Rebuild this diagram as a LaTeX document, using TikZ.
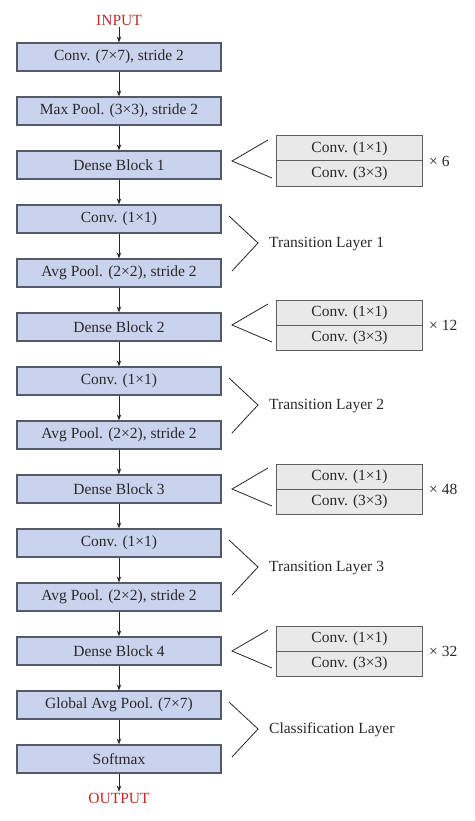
\documentclass[tikz,border=0pt]{standalone}
\usepackage{fontspec}
\setmainfont{Liberation Serif}
\usetikzlibrary{arrows.meta}
\definecolor{bfill}{RGB}{201,211,238}
\definecolor{bdraw}{RGB}{85,90,105}
\definecolor{gfill}{RGB}{233,233,233}
\definecolor{gdraw}{RGB}{95,95,95}
\definecolor{ired}{RGB}{190,45,40}
\definecolor{tcol}{RGB}{40,40,40}
\tikzset{
  bbox/.style={draw=bdraw, fill=bfill, line width=1.2pt, minimum width=204pt, minimum height=28pt, inner sep=0pt, font=\fontsize{15.5}{17}\selectfont, text=tcol},
  gbox/.style={draw=gdraw, fill=gfill, line width=1pt, minimum width=146pt, minimum height=25pt, inner sep=0pt, font=\fontsize{15.5}{17}\selectfont, text=tcol},
  lab/.style={anchor=west, inner sep=0pt, font=\fontsize{15.5}{17}\selectfont, text=tcol},
  io/.style={inner sep=1pt, font=\fontsize{15.5}{17}\selectfont, text=ired},
  arr/.style={-{Stealth[length=6pt,width=4.5pt]}, line width=0.8pt, draw=black!85},
  chev/.style={line width=0.8pt, draw=black!85},
}
\begin{document}
\begin{tikzpicture}[x=1pt,y=-1pt]
\useasboundingbox (0,0) rectangle (474,821);
\node[io] (in) at (119,21) {INPUT};
\node[bbox] (b1) at (119,57) {Conv. (7×7), stride 2};
\node[bbox] (b2) at (119,111) {Max Pool. (3×3), stride 2};
\node[bbox] (b3) at (119,165) {Dense Block 1};
\node[bbox] (b4) at (119,219) {Conv. (1×1)};
\node[bbox] (b5) at (119,273) {Avg Pool. (2×2), stride 2};
\node[bbox] (b6) at (119,327) {Dense Block 2};
\node[bbox] (b7) at (119,381) {Conv. (1×1)};
\node[bbox] (b8) at (119,435) {Avg Pool. (2×2), stride 2};
\node[bbox] (b9) at (119,489) {Dense Block 3};
\node[bbox] (b10) at (119,543) {Conv. (1×1)};
\node[bbox] (b11) at (119,597) {Avg Pool. (2×2), stride 2};
\node[bbox] (b12) at (119,651) {Dense Block 4};
\node[bbox] (b13) at (119,705) {Global Avg Pool. (7×7)};
\node[bbox] (b14) at (119,759) {Softmax};
\node[io] (out) at (119,798) {OUTPUT};
\draw[arr] (in) -- (b1);
\foreach \a/\b in {b1/b2,b2/b3,b3/b4,b4/b5,b5/b6,b6/b7,b7/b8,b8/b9,b9/b10,b10/b11,b11/b12,b12/b13,b13/b14}
  \draw[arr] (\a) -- (\b);
\draw[arr] (b14) -- (out);
% dense block details
\foreach \i/\c/\n in {1/161/6,2/325/12,3/489/48,4/651/32}{
  \node[gbox] (g\i a) at (349.5,\c-12.5) {Conv. (1×1)};
  \node[gbox] (g\i b) at (349.5,\c+12.5) {Conv. (3×3)};
  \node[lab] (x\i) at (429,\c) {× \n};
  \coordinate (t\i) at (232,\c);
  \coordinate (u\i) at (268,\c-21);
  \coordinate (v\i) at (272,\c+17);
  \draw[chev] (u\i) -- (t\i) -- (v\i);
}
% transition / classification
\foreach \i/\a/\b/\t in {1/219/273/Transition Layer 1,2/381/435/Transition Layer 2,3/543/597/Transition Layer 3,4/705/759/Classification Layer}{
  \coordinate (p\i) at (229,\a-3);
  \coordinate (q\i) at (258,{(\a+\b)/2-3});
  \coordinate (r\i) at (232,\b-2);
  \draw[chev] (p\i) -- (q\i) -- (r\i);
  \node[lab] (l\i) at (269,{(\a+\b)/2-2}) {\t};
}
\end{tikzpicture}
\end{document}
